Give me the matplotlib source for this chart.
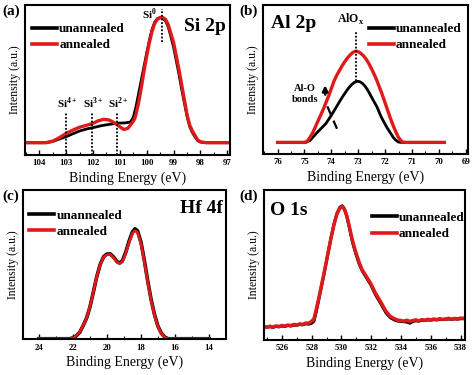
"""XPS spectra (Si 2p, Al 2p, Hf 4f, O 1s), unannealed vs annealed."""
import matplotlib
matplotlib.use('Agg')
import matplotlib.pyplot as plt
from matplotlib.ticker import MultipleLocator

plt.rcParams['font.family'] = ['Liberation Serif', 'DejaVu Serif']
plt.rcParams['font.weight'] = 'bold'
plt.rcParams['mathtext.fontset'] = 'custom'
plt.rcParams['mathtext.rm'] = 'Liberation Serif:bold'
plt.rcParams['mathtext.bf'] = 'Liberation Serif:bold'

RED = '#e0191b'
BLACK = '#000000'

# (a) Si 2p
si_e_red = [104.5, 103.75, 103.5, 103.3, 103.0, 102.7, 102.5, 102.2, 102.0, 101.8,
            101.6, 101.4, 101.2, 101.0, 100.85, 100.7, 100.55, 100.45, 100.4, 100.3,
            100.2, 100.1, 100.0, 99.9, 99.8, 99.7, 99.6, 99.5, 99.42, 99.3, 99.2,
            99.1, 99.0, 98.9, 98.8, 98.7, 98.6, 98.5, 98.4, 98.3, 98.2, 98.1, 98.0,
            97.8, 96.9]
si_i_red = [0.082, 0.082, 0.092, 0.110, 0.144, 0.170, 0.185, 0.200, 0.211, 0.228,
            0.238, 0.233, 0.215, 0.188, 0.170, 0.178, 0.212, 0.240, 0.270, 0.350,
            0.450, 0.560, 0.660, 0.750, 0.825, 0.878, 0.905, 0.917, 0.918, 0.905, 0.870,
            0.810, 0.750, 0.660, 0.570, 0.470, 0.370, 0.270, 0.200, 0.160, 0.130, 0.100, 0.088,
            0.082, 0.082]
si_e_blk = [104.5, 103.75, 103.5, 103.3, 103.0, 102.7, 102.5, 102.2, 102.0, 101.7,
            101.4, 101.1, 100.8, 100.6, 100.5, 100.4, 100.3, 100.2, 100.1, 100.0,
            99.9, 99.8, 99.7, 99.6, 99.5, 99.42, 99.3, 99.2, 99.1, 99.0, 98.9, 98.8,
            98.7, 98.6, 98.5, 98.4, 98.3, 98.2, 98.1, 98.0, 97.8, 96.9]
si_i_blk = [0.082, 0.082, 0.090, 0.103, 0.122, 0.145, 0.160, 0.175, 0.182, 0.195,
            0.204, 0.212, 0.214, 0.220, 0.250, 0.320, 0.410, 0.500, 0.590, 0.680,
            0.765, 0.838, 0.886, 0.910, 0.915, 0.912, 0.895, 0.855, 0.790, 0.720, 0.630, 0.540,
            0.440, 0.350, 0.260, 0.190, 0.150, 0.120, 0.095, 0.086, 0.082, 0.082]
si_states = ['Si$^{4+}$', 'Si$^{3+}$', 'Si$^{2+}$']
si_state_e = [103.0, 102.04, 101.1]

# (b) Al 2p
al_e_red = [76.0, 75.0, 74.9, 74.8, 74.7, 74.6, 74.5, 74.4, 74.3, 74.2, 74.1, 74.0,
            73.9, 73.8, 73.7, 73.6, 73.5, 73.4, 73.3, 73.2, 73.1, 73.0, 72.9, 72.8,
            72.7, 72.6, 72.5, 72.4, 72.3, 72.2, 72.1, 72.0, 71.9, 71.8, 71.7, 71.6,
            71.5, 71.4, 71.35, 71.2, 69.8]
al_i_red = [0.078, 0.078, 0.085, 0.110, 0.140, 0.180, 0.220, 0.260, 0.300, 0.345, 0.390, 0.440,
            0.490, 0.528, 0.560, 0.592, 0.620, 0.645, 0.665, 0.682, 0.690, 0.687, 0.675, 0.658,
            0.635, 0.605, 0.570, 0.532, 0.490, 0.443, 0.395, 0.343, 0.290, 0.238, 0.190, 0.148,
            0.110, 0.088, 0.080, 0.078, 0.078]
al_e_blk = [76.0, 74.95, 74.8, 74.7, 74.55, 74.4, 74.2, 74.0, 73.8, 73.6, 73.45, 73.35,
            73.25, 73.15, 73.05, 72.95, 72.85, 72.75, 72.65, 72.5, 72.3, 72.15, 71.95,
            71.8, 71.7, 71.6, 71.5, 71.4, 69.8]
al_i_blk = [0.078, 0.078, 0.090, 0.110, 0.140, 0.168, 0.205, 0.260, 0.320, 0.380, 0.420, 0.445,
            0.465, 0.480, 0.488, 0.486, 0.475, 0.456, 0.430, 0.380, 0.315, 0.250, 0.183,
            0.140, 0.112, 0.092, 0.080, 0.078, 0.078]

# (c) Hf 4f
hf_e_red = [24.0, 22.2, 21.9, 21.6, 21.4, 21.2, 21.0, 20.8, 20.6, 20.4, 20.2, 20.0,
            19.8, 19.6, 19.4, 19.25, 19.1, 18.9, 18.7, 18.5, 18.35, 18.2, 18.0, 17.8,
            17.6, 17.4, 17.2, 17.0, 16.8, 16.6, 16.4, 14.0]
hf_i_red = [0.005, 0.005, 0.015, 0.050, 0.095, 0.145, 0.220, 0.320, 0.420, 0.500, 0.550, 0.568,
            0.568, 0.545, 0.515, 0.508, 0.520, 0.575, 0.650, 0.710, 0.728, 0.715, 0.640, 0.520,
            0.380, 0.260, 0.160, 0.085, 0.040, 0.015, 0.005, 0.005]
hf_e_blk = [24.0, 22.2, 21.9, 21.6, 21.4, 21.2, 21.0, 20.8, 20.6, 20.4, 20.2, 20.0,
            19.8, 19.6, 19.4, 19.25, 19.1, 18.9, 18.7, 18.5, 18.35, 18.2, 18.0, 17.8,
            17.6, 17.4, 17.2, 17.0, 16.8, 16.6, 16.4, 14.0]
hf_i_blk = [0.005, 0.005, 0.014, 0.048, 0.093, 0.143, 0.218, 0.318, 0.420, 0.502, 0.553, 0.572,
            0.572, 0.550, 0.520, 0.512, 0.525, 0.582, 0.658, 0.720, 0.740, 0.726, 0.650, 0.528,
            0.388, 0.265, 0.165, 0.088, 0.042, 0.016, 0.005, 0.005]

# (d) O 1s
o_e = [524.8, 525.0, 525.2, 525.4, 525.6, 525.8, 526.0, 526.2, 526.4, 526.6, 526.8,
       527.0, 527.2, 527.4, 527.6, 527.8, 528.0, 528.15, 528.3, 528.5, 528.8, 529.1,
       529.3, 529.5, 529.7, 529.9, 530.05, 530.2, 530.35, 530.5, 530.75, 530.95, 531.2,
       531.4, 531.7, 531.96, 532.3, 532.63, 533.0, 533.3, 533.6, 533.8, 534.0, 534.2,
       534.4, 534.6, 534.8, 535.0, 535.2, 535.4, 535.6, 535.8, 536.0, 536.2, 536.4,
       536.6, 536.8, 537.0, 537.2, 537.4, 537.6, 537.8, 538.0, 538.3]
o_i_red = [0.090, 0.085, 0.092, 0.086, 0.094, 0.090, 0.097, 0.092, 0.100, 0.096, 0.104,
           0.100, 0.108, 0.104, 0.113, 0.112, 0.125, 0.140, 0.200, 0.290, 0.430, 0.580,
           0.680, 0.770, 0.840, 0.880, 0.890, 0.870, 0.830, 0.770, 0.660, 0.590, 0.515,
           0.467, 0.420, 0.378, 0.310, 0.256, 0.190, 0.156, 0.140, 0.132, 0.130, 0.126,
           0.132, 0.124, 0.130, 0.134, 0.128, 0.136, 0.132, 0.138, 0.134, 0.140, 0.136,
           0.142, 0.138, 0.140, 0.145, 0.139, 0.144, 0.140, 0.146, 0.145]
o_i_blk = [0.088, 0.086, 0.089, 0.084, 0.091, 0.088, 0.094, 0.090, 0.097, 0.093, 0.100,
           0.098, 0.104, 0.101, 0.108, 0.106, 0.112, 0.125, 0.185, 0.280, 0.425, 0.578,
           0.680, 0.772, 0.845, 0.885, 0.895, 0.875, 0.830, 0.765, 0.650, 0.580, 0.505,
           0.460, 0.412, 0.370, 0.300, 0.245, 0.180, 0.148, 0.132, 0.126, 0.124, 0.122,
           0.120, 0.112, 0.124, 0.128, 0.126, 0.132, 0.130, 0.134, 0.132, 0.136, 0.134,
           0.138, 0.136, 0.138, 0.140, 0.137, 0.141, 0.139, 0.142, 0.142]

LABELS = ['unannealed', 'annealed']
TICK_FS = 6.3
XLABEL_FS = 10
YLABEL_FS = 8.5


def style_axis(ax, xlim, major, minor):
    ax.set_xlim(*xlim)
    ax.set_ylim(0, 1)
    ax.xaxis.set_major_locator(MultipleLocator(major))
    ax.xaxis.set_minor_locator(MultipleLocator(minor))
    ax.tick_params(axis='x', which='major', direction='in', length=3.5, width=1.0,
                   labelsize=TICK_FS, pad=3)
    ax.tick_params(axis='x', which='minor', direction='in', length=2, width=0.8)
    ax.tick_params(axis='y', left=False, labelleft=False)
    for sp in ax.spines.values():
        sp.set_linewidth(1.5)
    ax.set_xlabel('Binding Energy (eV)', fontsize=XLABEL_FS, labelpad=3)
    ax.set_ylabel('Intensity (a.u.)', fontsize=YLABEL_FS, labelpad=3)


def add_legend(ax, x, y):
    leg = ax.legend(loc='upper left', bbox_to_anchor=(x, y), frameon=False, fontsize=9.5,
                    handlelength=1.9, handletextpad=0.15, borderaxespad=0, borderpad=0,
                    labelspacing=0.3)
    for line in leg.get_lines():
        line.set_linewidth(2.6)


fig = plt.figure(figsize=(4.74, 3.75), dpi=100)
ax_a = fig.add_axes([0.0527, 0.5867, 0.4325, 0.4])
ax_b = fig.add_axes([0.5555, 0.5893, 0.4312, 0.3973])
ax_c = fig.add_axes([0.0492, 0.0947, 0.4276, 0.3987])
ax_d = fig.add_axes([0.557, 0.0933, 0.424, 0.4])

# (a)
ax_a.plot(si_e_blk, si_i_blk, color=BLACK, lw=2.0, label=LABELS[0])
ax_a.plot(si_e_red, si_i_red, color=RED, lw=2.4, label=LABELS[1])
style_axis(ax_a, (104.53, 96.9), 1, 0.5)
for lab, e in zip(si_states, si_state_e):
    ax_a.plot([e, e], [0, 0.28], color='black', ls=(0, (1, 1)), lw=1.3)
    ax_a.text(e - 0.05, 0.295, lab, fontsize=8, ha='center', va='bottom')
ax_a.plot([99.42, 99.42], [0.75, 0.975], color='black', ls=(0, (1, 1)), lw=1.3)
ax_a.text(99.62, 0.935, 'Si$^{0}$', fontsize=8, ha='right', va='center')
ax_a.text(0.98, 0.855, 'Si 2p', transform=ax_a.transAxes, fontsize=14, ha='right', va='center')
add_legend(ax_a, 0.035, 0.88)

# (b)
ax_b.plot(al_e_blk, al_i_blk, color=BLACK, lw=2.0, label=LABELS[0])
ax_b.plot(al_e_red, al_i_red, color=RED, lw=2.4, label=LABELS[1])
style_axis(ax_b, (76.53, 68.93), 1, 0.5)
ax_b.plot([73.1, 73.1], [0.49, 0.82], color='black', ls=(0, (1, 1)), lw=1.3)
ax_b.text(73.3, 0.90, 'AlO$_{\\mathrm{x}}$', fontsize=8.5, ha='center', va='center')
ax_b.annotate('', xy=(74.23, 0.48), xytext=(74.23, 0.38),
              arrowprops=dict(arrowstyle='-|>', color='black', lw=1.8, mutation_scale=8))
ax_b.text(74.97, 0.40, 'Al-O\nbonds', fontsize=7.5, ha='center', va='center', linespacing=1.3)
ax_b.plot([74.15, 73.72], [0.32, 0.14], color='black', lw=1.6, ls=(0, (4, 3)))
ax_b.text(0.04, 0.875, 'Al 2p', transform=ax_b.transAxes, fontsize=14, ha='left', va='center')
add_legend(ax_b, 0.515, 0.88)

# (c)
ax_c.plot(hf_e_blk, hf_i_blk, color=BLACK, lw=2.6, label=LABELS[0])
ax_c.plot(hf_e_red, hf_i_red, color=RED, lw=2.0, label=LABELS[1])
style_axis(ax_c, (24.92, 13.0), 2, 1)
ax_c.text(0.985, 0.875, 'Hf 4f', transform=ax_c.transAxes, fontsize=14, ha='right', va='center')
add_legend(ax_c, 0.03, 0.87)

# (d)
ax_d.plot(o_e, o_i_blk, color=BLACK, lw=2.2, label=LABELS[0])
ax_d.plot(o_e, o_i_red, color=RED, lw=2.5, label=LABELS[1])
style_axis(ax_d, (524.8, 538.3), 2, 1)
ax_d.text(0.03, 0.865, 'O 1s', transform=ax_d.transAxes, fontsize=14, ha='left', va='center')
add_legend(ax_d, 0.535, 0.855)

for lab, x, y in [('(a)', 2, 11), ('(b)', 239, 11), ('(c)', 2, 196), ('(d)', 239, 196)]:
    fig.text(x / 474, 1 - y / 375, lab, fontsize=11, ha='left', va='center')

fig.savefig('out.png', dpi=100)
